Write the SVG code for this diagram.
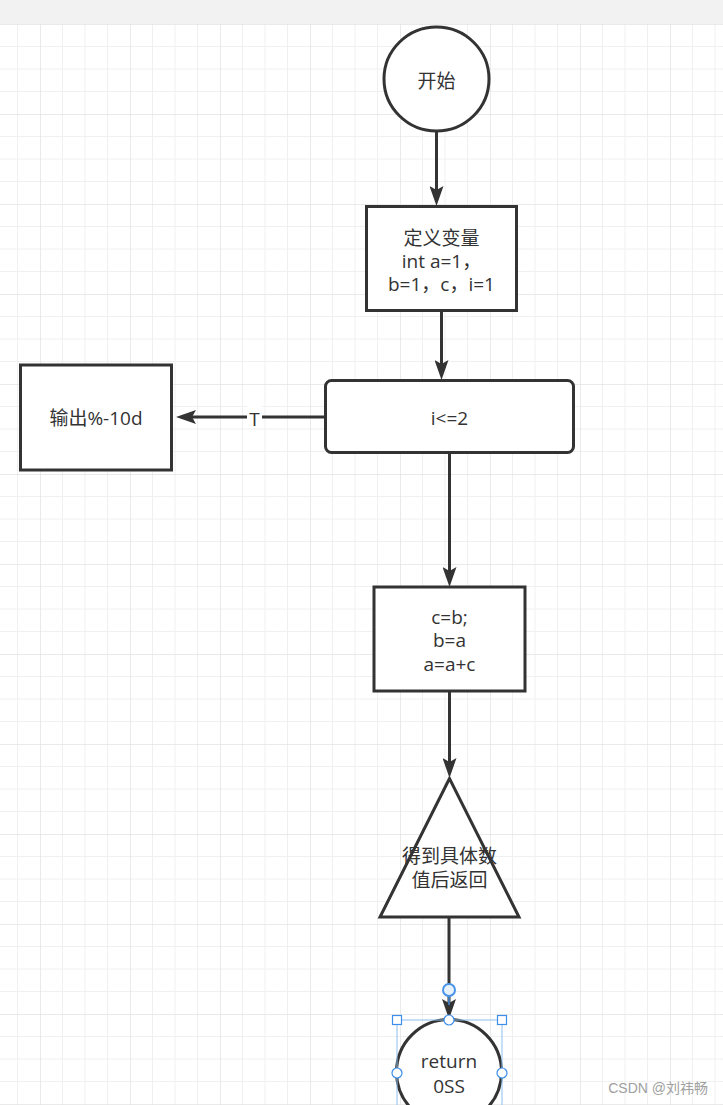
<svg xmlns="http://www.w3.org/2000/svg" width="723" height="1105" viewBox="0 0 723 1105">
<style>
.shape{fill:#fff;stroke:#333;stroke-width:3}
.conn{fill:none;stroke:#333;stroke-width:3}
.t{font-family:"Open Sans","Noto Sans CJK SC",sans-serif;font-size:19px;fill:#333;text-anchor:middle}
.sel{fill:#fff;stroke:#3b8eea;stroke-width:1.2}
</style>
<defs>
<pattern id="grid" patternUnits="userSpaceOnUse" x="40" y="24" width="90" height="90">
<path d="M22.5,0V90M45,0V90M67.5,0V90M0,22.5H90M0,45H90M0,67.5H90" stroke="#f0f0f0" stroke-width="1" fill="none"/>
<path d="M0,0V90M0,0H90" stroke="#e3e3e3" stroke-width="1.5" fill="none"/>
</pattern>
<marker id="arr" markerUnits="userSpaceOnUse" viewBox="0 0 20 14" refX="15" refY="7" markerWidth="20" markerHeight="14" orient="auto">
<path d="M0,0 L20,7 L0,14 L4,7 Z" fill="#333"/>
</marker>
</defs>
<rect x="0" y="0" width="723" height="1105" fill="#fff"/>
<rect x="0" y="24" width="723" height="1081" fill="url(#grid)"/>
<rect x="0" y="0" width="723" height="24" fill="#f2f2f2"/>

<g id="connectors">
<line class="conn" x1="436.5" y1="131" x2="436.5" y2="201" marker-end="url(#arr)"/>
<line class="conn" x1="441.5" y1="311" x2="441.5" y2="375" marker-end="url(#arr)"/>
<line class="conn" x1="325" y1="417" x2="181" y2="417" marker-end="url(#arr)"/>
<rect x="247" y="406" width="15" height="22" fill="#fff"/>
<text class="t" x="254.5" y="426">T</text>
<line class="conn" x1="449.5" y1="453" x2="449.5" y2="582" marker-end="url(#arr)"/>
<line class="conn" x1="449.5" y1="691" x2="449.5" y2="773" marker-end="url(#arr)"/>
<line class="conn" x1="449" y1="917" x2="449" y2="1014" marker-end="url(#arr)"/>
<line x1="449" y1="996" x2="449" y2="1005" stroke="#4a94e8" stroke-width="2" opacity="0.7"/>
</g>

<g id="start">
<ellipse class="shape" cx="436.5" cy="79" rx="52.5" ry="52"/>
<text class="t" x="436.5" y="87.5">开始</text>
</g>

<g id="define">
<rect class="shape" x="366.5" y="206.5" width="150" height="104"/>
<text class="t" x="441.5" y="245">定义变量</text>
<text class="t" x="441.5" y="267.5">int a=1，</text>
<text class="t" x="441.5" y="290.5">b=1，c，i=1</text>
</g>

<g id="cond">
<rect class="shape" x="325.5" y="380.5" width="248" height="72" rx="6" ry="6"/>
<text class="t" x="449.5" y="425">i&lt;=2</text>
</g>

<g id="output">
<rect class="shape" x="20.5" y="365" width="151" height="105"/>
<text class="t" x="96" y="425">输出%-10d</text>
</g>

<g id="compute">
<rect class="shape" x="374" y="587" width="151" height="104"/>
<text class="t" x="449.5" y="623.5">c=b;</text>
<text class="t" x="449.5" y="647">b=a</text>
<text class="t" x="449.5" y="670.5">a=a+c</text>
</g>

<g id="result">
<polygon class="shape" points="449.5,778.5 380,917 519,917"/>
<text class="t" x="449.5" y="862.5">得到具体数</text>
<text class="t" x="449.5" y="886.5">值后返回</text>
</g>

<g id="end">
<circle class="shape" cx="449" cy="1072" r="52.5"/>
<text class="t" x="449" y="1068">return</text>
<text class="t" x="449" y="1092.5">0SS</text>
</g>

<g id="selection">
<rect x="397" y="1020" width="105" height="100" fill="none" stroke="#8fbdf0" stroke-width="1"/>
<circle cx="449" cy="990" r="6" fill="#e8f2fd" stroke="#4a94e8" stroke-width="2"/>
<rect class="sel" x="392.5" y="1015.5" width="9" height="9"/>
<rect class="sel" x="497.5" y="1015.5" width="9" height="9"/>
<circle class="sel" cx="449" cy="1020" r="5"/>
<circle class="sel" cx="397" cy="1073" r="5"/>
<circle class="sel" cx="502" cy="1073" r="5"/>
</g>

<text x="708" y="1093" font-family="'Liberation Sans','Noto Sans CJK SC',sans-serif" font-size="14" fill="#a0a0a0" text-anchor="end">CSDN @刘祎畅</text>
</svg>
